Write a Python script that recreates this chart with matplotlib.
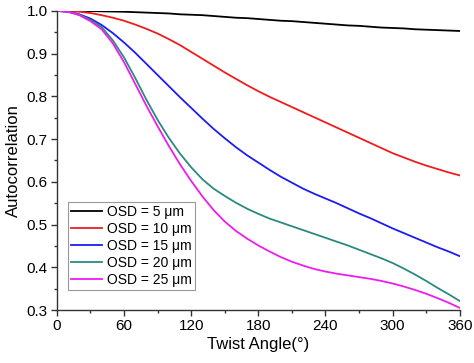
import matplotlib
matplotlib.use("Agg")
import matplotlib.pyplot as plt
from matplotlib.ticker import MultipleLocator

plt.rcParams['font.family'] = ['Liberation Sans', 'DejaVu Sans']

# twist angle in degrees, curves read every 10 deg off the picture
angle = list(range(0, 361, 10))

osd_5 = [1.000, 1.000, 1.000, 0.9995, 0.999, 0.9985, 0.998, 0.997, 0.996,
         0.995, 0.994, 0.992, 0.991, 0.990, 0.988, 0.986, 0.984, 0.983,
         0.981, 0.979, 0.977, 0.976, 0.974, 0.972, 0.970, 0.968, 0.966,
         0.965, 0.963, 0.961, 0.960, 0.959, 0.957, 0.956, 0.955, 0.954, 0.953]
osd_10 = [1.000, 0.9995, 0.998, 0.995, 0.990, 0.984, 0.977, 0.968, 0.958,
          0.947, 0.934, 0.920, 0.904, 0.888, 0.872, 0.856, 0.841, 0.826,
          0.812, 0.799, 0.787, 0.775, 0.763, 0.751, 0.739, 0.727, 0.715,
          0.703, 0.691, 0.679, 0.667, 0.657, 0.647, 0.638, 0.630, 0.622, 0.615]
osd_15 = [1.000, 0.998, 0.992, 0.982, 0.967, 0.948, 0.926, 0.902, 0.876,
          0.850, 0.824, 0.798, 0.773, 0.748, 0.724, 0.702, 0.681, 0.662,
          0.645, 0.628, 0.612, 0.598, 0.584, 0.572, 0.561, 0.550, 0.538,
          0.526, 0.515, 0.503, 0.491, 0.480, 0.469, 0.458, 0.447, 0.437, 0.426]
osd_20 = [1.000, 0.998, 0.991, 0.979, 0.962, 0.931, 0.891, 0.843, 0.792,
          0.745, 0.703, 0.666, 0.634, 0.606, 0.584, 0.567, 0.551, 0.537,
          0.525, 0.514, 0.505, 0.496, 0.487, 0.478, 0.469, 0.460, 0.451,
          0.441, 0.431, 0.421, 0.410, 0.397, 0.383, 0.368, 0.352, 0.337, 0.321]
osd_25 = [1.000, 0.998, 0.990, 0.976, 0.957, 0.924, 0.880, 0.829, 0.778,
          0.730, 0.684, 0.641, 0.602, 0.566, 0.534, 0.507, 0.485, 0.467,
          0.451, 0.437, 0.424, 0.413, 0.404, 0.396, 0.390, 0.385, 0.381,
          0.377, 0.373, 0.368, 0.362, 0.355, 0.347, 0.338, 0.328, 0.317, 0.305]

labels = [u"OSD = 5 \u03bcm", u"OSD = 10 \u03bcm", u"OSD = 15 \u03bcm",
          u"OSD = 20 \u03bcm", u"OSD = 25 \u03bcm"]
colors = ['#000000', '#ee1c1c', '#1c1cee', '#2a8a80', '#ee1cee']


def main():
    fig = plt.figure(figsize=(4.74, 3.63), dpi=100)
    ax = fig.add_axes([0.120, 0.146, 0.850, 0.824])

    for ys, lab, col in zip([osd_5, osd_10, osd_15, osd_20, osd_25], labels, colors):
        ax.plot(angle, ys, color=col, lw=1.3, label=lab)

    ax.set_xlim(0, 360)
    ax.set_ylim(0.3, 1.0)
    ax.xaxis.set_major_locator(MultipleLocator(60))
    ax.xaxis.set_minor_locator(MultipleLocator(30))
    ax.yaxis.set_major_locator(MultipleLocator(0.1))
    ax.yaxis.set_minor_locator(MultipleLocator(0.05))

    ax.spines['top'].set_visible(False)
    ax.spines['right'].set_visible(False)
    for s in ('left', 'bottom'):
        ax.spines[s].set_color('#333333')
        ax.spines[s].set_linewidth(1.0)

    ax.tick_params(which='major', direction='out', length=4, width=1,
                   color='#333333', labelsize=11, pad=2.5)
    ax.tick_params(which='minor', direction='out', length=2.5, width=1,
                   color='#333333')

    ax.set_xlabel(u"Twist Angle(\u00b0)", fontsize=12, labelpad=3)
    ax.set_ylabel("Autocorrelation", fontsize=12, labelpad=4)

    leg = ax.legend(loc='lower left', bbox_to_anchor=(0.027, 0.067),
                    fontsize=10, handlelength=2.3, handletextpad=0.35,
                    labelspacing=0.22, borderpad=0.2, borderaxespad=0,
                    fancybox=False, framealpha=1)
    leg.get_frame().set_edgecolor('#999999')
    leg.get_frame().set_linewidth(0.8)

    fig.savefig('out.png', dpi=100)


if __name__ == '__main__':
    main()
